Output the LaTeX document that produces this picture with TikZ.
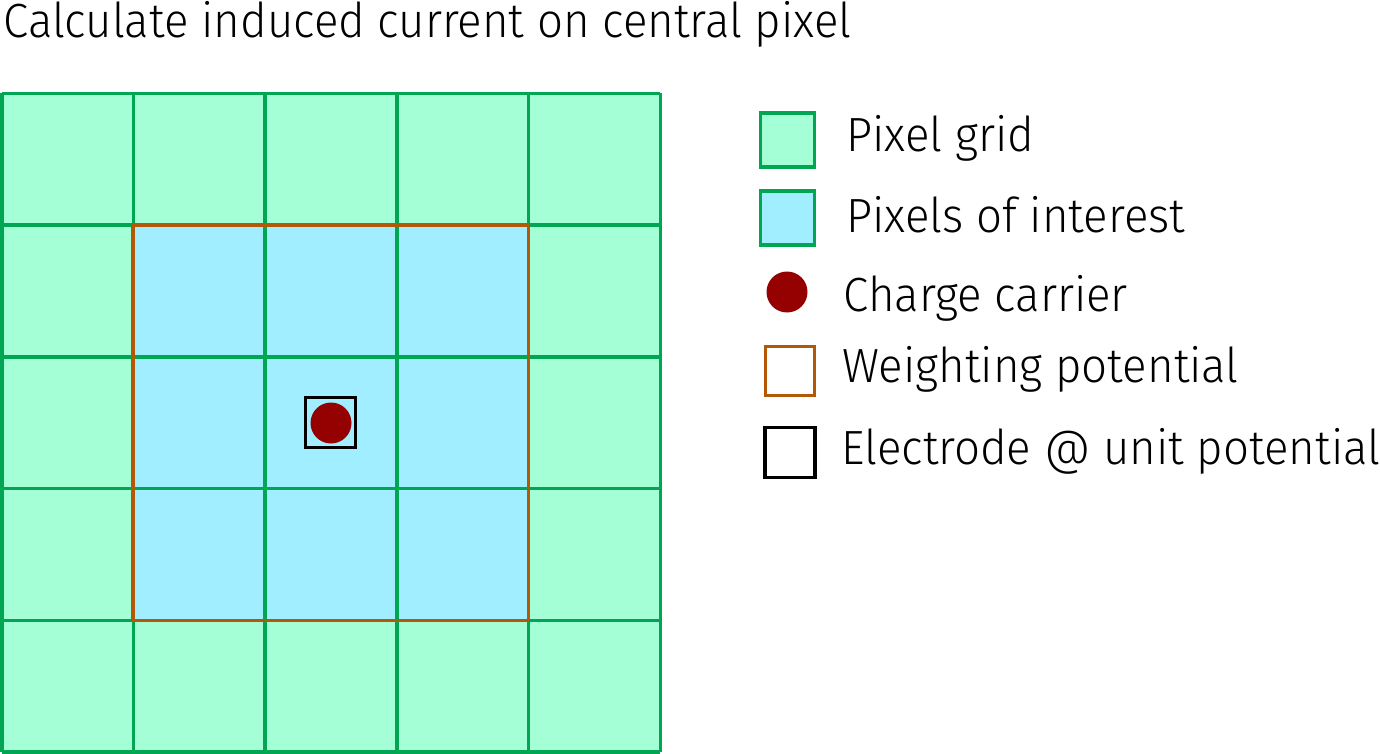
\documentclass[tikz,border=0pt]{standalone}
\usepackage{fontspec}
\setmainfont{Fira Sans}[UprightFont=* Light, FakeStretch=0.95]
\usetikzlibrary{positioning}
\definecolor{pixgreen}{HTML}{00A651}
\definecolor{pixfill}{HTML}{A5FFD6}
\definecolor{roifill}{HTML}{A0EEFF}
\definecolor{wpot}{HTML}{B35806}
\definecolor{carrier}{HTML}{950000}

\begin{document}
\begin{tikzpicture}[
	x=0.5pt, y=-0.5pt,
	pixline/.style={draw=pixgreen, line width=1.8pt},
	keybox/.style={rectangle, draw, inner sep=0pt, line width=1.8pt, minimum size=27pt},
	electrode/.style={rectangle, draw=black, inner sep=0pt, line width=1.8pt, minimum size=25pt},
	charge/.style={circle, fill=carrier, inner sep=0pt, minimum size=20.5pt},
	lbl/.style={anchor=base west, inner sep=0pt, font=\fontsize{24}{28}\selectfont}
]
\useasboundingbox (0,0) rectangle (1380,754);

% pixel grid
\fill[pixfill] (1.8,93.5) rectangle (660,752);
\fill[roifill] (133,225) rectangle (529,621);
\foreach \i in {0,...,5} {
	\draw[pixline] (1.8+\i*131.7,93.5) -- ++(0,658.5);
	\draw[pixline] (1.8,93.5+\i*131.7) -- ++(658.5,0);
}
\draw[draw=wpot, line width=1.8pt] (133,225) rectangle (528.5,620.5);
\node[electrode] (electrode) at (330.5,422.5) {};
\node[charge] (carrier) at (331,423) {};

\node[lbl] (title) at (3,38) {Calculate induced current on central pixel};

% legend
\node[keybox, draw=pixgreen, fill=pixfill] (keygrid) at (787.5,140) {};
\node[keybox, draw=pixgreen, fill=roifill] (keyroi) at (787.5,218) {};
\node[charge] (keycarrier) at (787,292) {};
\node[keybox, draw=wpot, line width=1.5pt, minimum size=24.5pt] (keywpot) at (790,371) {};
\node[keybox, draw=black, minimum size=25pt] (keyelec) at (790,452.5) {};

\node[lbl] (lblgrid) at (846,152) {Pixel grid};
\node[lbl] (lblroi) at (846,233) {Pixels of interest};
\node[lbl] (lblcarrier) at (843,311) {Charge carrier};
\node[lbl] (lblwpot) at (842,382) {Weighting potential};
\node[lbl] (lblelec) at (841,464) {Electrode @ unit potential};
\end{tikzpicture}
\end{document}
